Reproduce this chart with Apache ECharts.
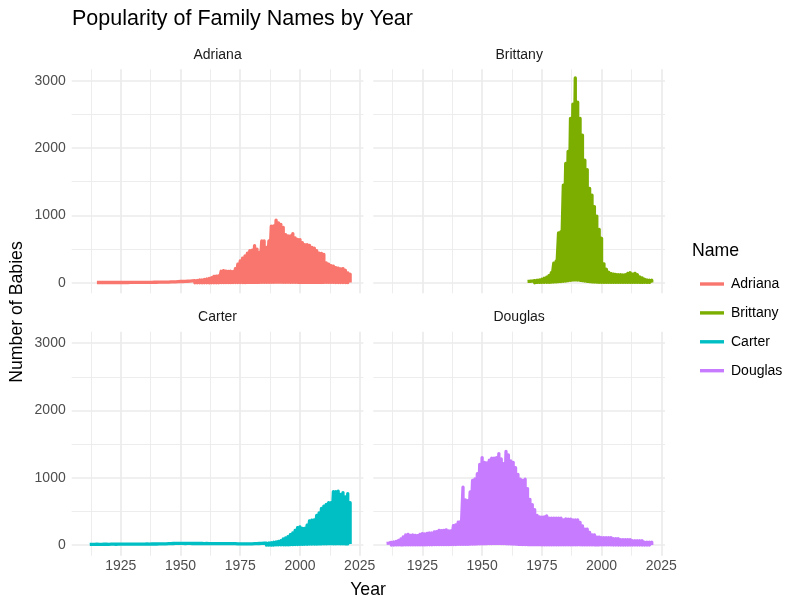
<!DOCTYPE html>
<html lang="en">
<head>
<meta charset="UTF-8">
<title>Popularity of Family Names by Year</title>
<style>
    html, body { margin: 0; padding: 0; background: #fff; }
    #chart { width: 802px; height: 611px; }
</style>
</head>
<body>
<div id="chart"></div>
<script src="https://cdn.jsdelivr.net/npm/echarts@6/dist/echarts.min.js"></script>
<script>
    // facet names and ggplot hue colours
    var nameList = ['Adriana', 'Brittany', 'Carter', 'Douglas'];
    var nameColors = ['#F8766D', '#7CAE00', '#00BFC4', '#C77CFF'];

    // tick values
    var yearTicks = [1925, 1950, 1975, 2000, 2025];
    var yearMinor = [1912.5, 1937.5, 1962.5, 1987.5, 2012.5];
    var countTicks = [0, 1000, 2000, 3000];
    var countMinor = [500, 1500, 2500];

    // per year: one value per sex (high one, low one), first year given separately
    var adrianaStart = 1915;
    var adrianaHigh = [
        3, 3, 3, 3, 3, 3, 3, 3, 3, 3,
        3, 3, 4, 3, 4, 4, 4, 5, 4, 5,
        5, 5, 6, 6, 7, 7, 8, 8, 9, 10,
        10, 12, 12, 14, 16, 18, 18, 20, 22, 24,
        28, 30, 34, 40, 42, 48, 55, 62, 75, 95,
        98, 100, 170, 180, 172, 168, 170, 165, 210, 275,
        325, 365, 400, 440, 475, 485, 550, 500, 450, 620,
        620, 525, 620, 840, 845, 930, 890, 865, 820, 715,
        695, 695, 730, 665, 645, 640, 595, 565, 565, 555,
        525, 515, 475, 440, 435, 420, 295, 275, 255, 245,
        225, 215, 205, 210, 185, 145, 125
    ];
    var adrianaLow = [
        0, 0, 0, 0, 0, 0, 0, 0, 0, 0,
        0, 0, 0, 0, 0, 0, 0, 0, 0, 0,
        0, 0, 0, 0, 0, 0, 0, 0, 0, 0,
        0, 0, 0, 0, 0, 0, 0, 0, 0, 0,
        0, 0, 0, 0, 0, 0, 0, 0, 0, 0,
        0, 0, 2, 2, 2, 2, 2, 2, 2, 3,
        3, 3, 3, 4, 4, 4, 5, 5, 5, 6,
        6, 6, 6, 7, 7, 8, 8, 8, 7, 7,
        7, 6, 6, 6, 6, 5, 5, 5, 5, 5,
        5, 5, 5, 5, 4, 4, 4, 4, 4, 4,
        3, 3, 3, 3, 3, 3, 3
    ];

    var brittanyStart = 1969;
    var brittanyHigh = [
        20, 22, 25, 30, 35, 42, 50, 65, 80, 105,
        150, 290, 320, 740, 760, 1450, 1770, 1950, 2440, 2650,
        3040, 2680, 2440, 2190, 1820, 1680, 1400, 1300, 1130, 990,
        790, 660, 280, 200, 155, 135, 128, 122, 118, 118,
        115, 118, 138, 148, 128, 138, 118, 85, 70, 50,
        40, 35, 35
    ];
    var brittanyLow = [
        0, 0, 0, 0, 5, 5, 5, 5, 6, 6,
        8, 10, 12, 15, 18, 22, 26, 30, 35, 40,
        42, 40, 35, 30, 25, 20, 15, 12, 10, 8,
        7, 6, 5, 5, 5, 5, 5, 5, 5, 5,
        5, 5, 5, 5, 5, 5, 5, 5, 5, 5,
        5, 5, 5
    ];

    var carterStart = 1912;
    var carterHigh = [
        10, 12, 12, 14, 12, 12, 14, 13, 12, 14,
        14, 13, 14, 15, 14, 14, 15, 15, 15, 16,
        15, 16, 15, 16, 17, 16, 17, 18, 17, 18,
        18, 19, 20, 22, 22, 24, 26, 26, 25, 25,
        24, 25, 26, 24, 25, 24, 25, 24, 23, 24,
        23, 22, 22, 23, 22, 21, 22, 22, 21, 21,
        22, 22, 20, 18, 18, 19, 18, 18, 20, 21,
        22, 24, 26, 28, 30, 32, 36, 42, 48, 55,
        65, 90, 105, 125, 155, 180, 220, 260, 270, 250,
        250, 295, 360, 370, 375, 440, 480, 545, 580, 605,
        630, 630, 795, 795, 800, 755, 780, 715, 765, 630
    ];
    var carterLow = [
        0, 0, 0, 0, 0, 0, 0, 0, 0, 0,
        0, 0, 0, 0, 0, 0, 0, 0, 0, 0,
        0, 0, 0, 0, 0, 0, 0, 0, 0, 0,
        0, 0, 0, 0, 0, 0, 0, 0, 0, 0,
        0, 0, 0, 0, 0, 0, 0, 0, 0, 0,
        0, 0, 0, 0, 0, 0, 0, 0, 0, 0,
        0, 0, 0, 0, 0, 0, 0, 0, 0, 0,
        0, 0, 0, 0, 0, 0, 0, 0, 3, 3,
        4, 4, 5, 5, 6, 6, 8, 8, 10, 10,
        12, 12, 14, 14, 15, 15, 18, 18, 20, 20,
        22, 22, 20, 20, 22, 20, 20, 18, 18, 18
    ];

    var douglasStart = 1910;
    var douglasHigh = [
        25, 30, 40, 45, 55, 70, 90, 120, 150, 160,
        145, 150, 145, 140, 160, 170, 165, 175, 180, 180,
        195, 200, 220, 215, 220, 225, 210, 210, 290, 300,
        340, 350, 860, 670, 660, 790, 960, 985, 1060, 1200,
        1300, 1230, 1220, 1260, 1290, 1290, 1300, 1360, 1280, 1210,
        1390, 1340, 1250, 1230, 1150, 1050, 980, 960, 980, 840,
        680, 600, 525, 440, 420, 415, 420, 435, 400, 400,
        400, 400, 400, 400, 376, 390, 386, 386, 376, 376,
        376, 336, 287, 237, 237, 188, 153, 153, 119, 119,
        109, 109, 109, 109, 109, 94, 94, 94, 79, 79,
        79, 79, 79, 64, 64, 64, 64, 64, 44, 44,
        44, 44
    ];
    var douglasLow = [
        2, 2, 2, 2, 3, 3, 3, 3, 4, 4,
        4, 4, 4, 4, 5, 5, 5, 5, 5, 5,
        6, 6, 6, 6, 7, 7, 7, 8, 8, 8,
        10, 10, 12, 12, 12, 14, 15, 16, 18, 20,
        20, 22, 22, 24, 24, 25, 25, 25, 24, 24,
        22, 20, 18, 16, 14, 12, 10, 9, 8, 8,
        7, 7, 6, 6, 6, 5, 5, 5, 5, 5,
        5, 5, 5, 5, 4, 4, 4, 4, 4, 4,
        4, 4, 3, 3, 3, 3, 3, 3, 3, 3,
        3, 3, 3, 3, 3, 2, 2, 2, 2, 2,
        2, 2, 2, 2, 2, 2, 2, 2, 2, 2,
        2, 2
    ];

    // geom_line over both sexes: the path runs high -> low within each year
    function zigzag(start, high, low) {
        var pts = [];
        for (var i = 0; i < high.length; i++) {
            pts.push([start + i, high[i]]);
            pts.push([start + i, low[i]]);
        }
        return pts;
    }
    var seriesData = [
        zigzag(adrianaStart, adrianaHigh, adrianaLow),
        zigzag(brittanyStart, brittanyHigh, brittanyLow),
        zigzag(carterStart, carterHigh, carterLow),
        zigzag(douglasStart, douglasHigh, douglasLow)
    ];

    var font = '"Liberation Sans", Arial, sans-serif';
    var panels = [
        { left: 71.7, top: 69.3 },
        { left: 373.3, top: 69.3 },
        { left: 71.7, top: 331.7 },
        { left: 373.3, top: 331.7 }
    ];
    var panelW = 291.7, panelH = 224;

    var grids = [], xAxes = [], yAxes = [], series = [], graphics = [];
    function plain(v) { return String(v); }

    panels.forEach(function (p, i) {
        grids.push({ left: p.left, top: p.top, width: panelW, height: panelH, containLabel: false });
        xAxes.push({
            type: 'value', gridIndex: i, min: 1904.45, max: 2026.55,
            axisLine: { show: false }, axisTick: { show: false }, splitLine: { show: false },
            axisLabel: {
                show: i >= 2, customValues: yearTicks, margin: 3, formatter: plain,
                color: '#4D4D4D', fontSize: 14, fontFamily: font
            }
        });
        yAxes.push({
            type: 'value', gridIndex: i, min: -157, max: 3169,
            axisLine: { show: false }, axisTick: { show: false }, splitLine: { show: false },
            axisLabel: {
                show: i % 2 === 0, customValues: countTicks, margin: 6, formatter: plain,
                color: '#4D4D4D', fontSize: 14, fontFamily: font
            }
        });

        // panel grid (theme_minimal): major and minor lines, kept behind the data
        var lines = [];
        yearMinor.forEach(function (v) { lines.push({ xAxis: v, lineStyle: { width: 0.9 } }); });
        countMinor.forEach(function (v) { lines.push({ yAxis: v, lineStyle: { width: 0.9 } }); });
        yearTicks.forEach(function (v) { lines.push({ xAxis: v, lineStyle: { width: 1.7 } }); });
        countTicks.forEach(function (v) { lines.push({ yAxis: v, lineStyle: { width: 1.7 } }); });
        series.push({
            type: 'line', name: 'grid' + i, xAxisIndex: i, yAxisIndex: i, data: [],
            silent: true, z: 0,
            markLine: {
                z: 0, zlevel: 0,
                silent: true, symbol: ['none', 'none'], animation: false,
                label: { show: false },
                lineStyle: { type: 'solid', color: '#EBEBEB' },
                emphasis: { disabled: true },
                data: lines
            }
        });

        series.push({
            type: 'line', name: nameList[i], xAxisIndex: i, yAxisIndex: i,
            data: seriesData[i], showSymbol: false, symbol: 'none', z: 3,
            sampling: null, silent: true,
            color: nameColors[i],
            lineStyle: { color: nameColors[i], width: 3.3, cap: 'butt', join: 'round' }
        });

        // strip label
        graphics.push({
            type: 'text', x: p.left + panelW / 2, y: p.top - 14.5,
            style: {
                text: nameList[i], fill: '#1A1A1A', font: '14px ' + font,
                align: 'center', verticalAlign: 'middle',
                textAlign: 'center', textVerticalAlign: 'middle'
            }
        });
    });

    graphics.push({
        type: 'text', x: 72, y: 19.5,
        style: {
            text: 'Popularity of Family Names by Year', fill: '#000', font: '21.5px ' + font,
            align: 'left', verticalAlign: 'middle', textAlign: 'left', textVerticalAlign: 'middle'
        }
    });
    graphics.push({
        type: 'text', x: 368, y: 590.5,
        style: {
            text: 'Year', fill: '#000', font: '17.7px ' + font,
            align: 'center', verticalAlign: 'middle', textAlign: 'center', textVerticalAlign: 'middle'
        }
    });
    graphics.push({
        type: 'text', x: 17, y: 312, rotation: Math.PI / 2,
        style: {
            text: 'Number of Babies', fill: '#000', font: '17.7px ' + font,
            align: 'center', verticalAlign: 'middle', textAlign: 'center', textVerticalAlign: 'middle'
        }
    });
    graphics.push({
        type: 'text', x: 692, y: 251.5,
        style: {
            text: 'Name', fill: '#000', font: '17.7px ' + font,
            align: 'left', verticalAlign: 'middle', textAlign: 'left', textVerticalAlign: 'middle'
        }
    });

    var myChart = echarts.init(document.getElementById('chart'));
    var option = {
        animation: false,
        backgroundColor: '#fff',
        textStyle: { fontFamily: font },
        grid: grids,
        xAxis: xAxes,
        yAxis: yAxes,
        legend: {
            data: nameList, orient: 'vertical', left: 695, top: 271,
            icon: 'rect', itemWidth: 24, itemHeight: 3.4, itemGap: 12.9,
            selectedMode: false,
            textStyle: { fontSize: 14, color: '#000', fontFamily: font, lineHeight: 16, padding: [0, 0, 0, 2] }
        },
        graphic: graphics,
        series: series
    };
    myChart.setOption(option);
</script>
</body>
</html>
